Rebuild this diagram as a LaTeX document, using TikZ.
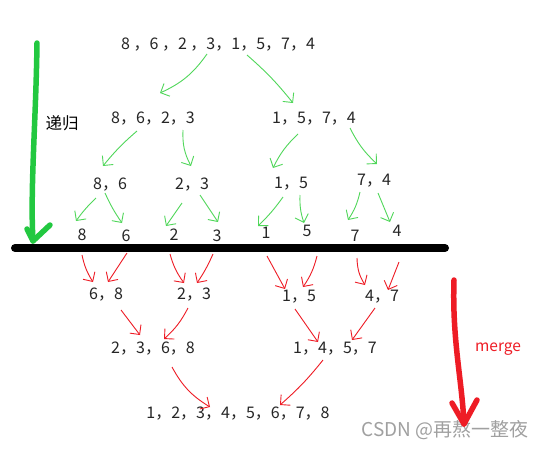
\documentclass[tikz,border=0pt]{standalone}
\usepackage{fontspec}
\setmainfont{Noto Sans CJK SC}
\usetikzlibrary{arrows.meta}
\definecolor{gthick}{RGB}{34,200,64}
\definecolor{gthin}{RGB}{80,215,90}
\definecolor{rred}{RGB}{238,28,37}
\definecolor{wm}{RGB}{160,160,160}
\tikzset{
  num/.style={font=\fontsize{16}{18}\selectfont, text height=11.5pt, text depth=0pt, inner sep=0pt, text=black!85},
  garr/.style={draw=gthin, line width=0.9pt, -{Straight Barb[length=7pt,width=14pt]}},
  rarr/.style={draw=rred, line width=0.9pt, -{Straight Barb[length=7pt,width=14pt]}},
  bigline/.style={line width=5.5pt, line cap=round, line join=round},
}
\begin{document}
\begin{tikzpicture}[x=1pt,y=-1pt]
\useasboundingbox[fill=white] (0,0) rectangle (547,450);
% nodes
\node[num] (top) at (218,44) {8 ，6 ，2 ，3，1，5，7，4};
\node[num] (L1a) at (153,118) {8，6，2，3};
\node[num] (L1b) at (314,118) {1，5，7，4};
\node[num] (L2a) at (110,184) {8，6};
\node[num] (L2b) at (192,184) {2，3};
\node[num] (L2c) at (291,183) {1，5};
\node[num] (L2d) at (374,180) {7，4};
\node[num] (la) at (82,235) {8};
\node[num] (lb) at (126,236) {6};
\node[num] (lc) at (174,235) {2};
\node[num] (ld) at (217,236) {3};
\node[num] (le) at (266,233) {1};
\node[num] (lf) at (307,231) {5};
\node[num] (lg) at (355,236) {7};
\node[num] (lh) at (397,231) {4};
\node[num] (M1a) at (106,294) {6，8};
\node[num] (M1b) at (194,294) {2，3};
\node[num] (M1c) at (299,296) {1，5};
\node[num] (M1d) at (382,296) {4，7};
\node[num] (M2a) at (153,348) {2，3，6，8};
\node[num] (M2b) at (335,348) {1，4，5，7};
\node[num] (F) at (238,413) {1，2，3，4，5，6，7，8};
\node[font=\fontsize{16.5}{18}\selectfont, inner sep=0pt] (dg) at (62,123) {递归};
\node[font=\fontsize{15.5}{17}\selectfont, text=rred, inner sep=0pt] (mg) at (498,349) {merge};
\node[font=\fontsize{19}{21}\selectfont, text=wm, inner sep=0pt] (wmk) at (445,430) {CSDN @再熬一整夜};
% bar
\coordinate (barL) at (15,248);
\coordinate (barR) at (445,248);
\draw[line width=8pt, line cap=round] (barL) -- (barR);
% big green arrow
\coordinate (gs) at (37,43);
\coordinate (ge) at (33,241);
\coordinate (gh1) at (50,225);
\coordinate (gh2) at (27,229);
\draw[gthick, bigline] (gs) .. controls (36,120) and (30,190) .. (ge);
\draw[gthick, bigline] (gh1) -- (ge) -- (gh2);
% big red arrow
\coordinate (rs) at (454,280);
\coordinate (re) at (464,424);
\coordinate (rh1) at (452,403);
\coordinate (rh2) at (477,400);
\draw[rred, bigline] (rs) .. controls (452,340) and (462,380) .. (re);
\draw[rred, bigline] (rh1) -- (re) -- (rh2);
% green divide arrows
\draw[garr] ([shift={(-11,10)}]top.center) to[bend left=15] ([shift={(7,-25)}]L1a.center);
\draw[garr] ([shift={(29,11)}]top.center) to[bend left=5] ([shift={(-21,-15)}]L1b.center);
\draw[garr] ([shift={(-16,13)}]L1a.center) to[bend right=5] ([shift={(-7,-18)}]L2a.center);
\draw[garr] ([shift={(30,12)}]L1a.center) to[bend right=15] ([shift={(-1,-18)}]L2b.center);
\draw[garr] ([shift={(-16,16)}]L1b.center) to[bend right=10] ([shift={(-18,-15)}]L2c.center);
\draw[garr] ([shift={(36,10)}]L1b.center) to[bend right=10] ([shift={(3,-16)}]L2d.center);
\draw[garr] ([shift={(-14,14)}]L2a.center) to[bend right=5] ([shift={(-6,-14)}]la.center);
\draw[garr] ([shift={(-5,9)}]L2a.center) to[bend right=5] ([shift={(-4,-13)}]lb.center);
\draw[garr] ([shift={(-10,19)}]L2b.center) -- ([shift={(-8,-9)}]lc.center);
\draw[garr] ([shift={(8,11)}]L2b.center) -- ([shift={(1,-14)}]ld.center);
\draw[garr] ([shift={(-8,14)}]L2c.center) to[bend left=5] ([shift={(-8,-7)}]le.center);
\draw[garr] ([shift={(9,12)}]L2c.center) to[bend right=10] ([shift={(-3,-8)}]lf.center);
\draw[garr] ([shift={(-14,12)}]L2d.center) to[bend left=10] ([shift={(-7,-16)}]lg.center);
\draw[garr] ([shift={(4,13)}]L2d.center) -- ([shift={(-7,-9)}]lh.center);
% red merge arrows
\draw[rarr] ([shift={(0,20)}]la.center) to[bend right=10] ([shift={(-13,-12)}]M1a.center);
\draw[rarr] ([shift={(1,17)}]lb.center) -- ([shift={(2,-12)}]M1a.center);
\draw[rarr] ([shift={(-4,19)}]lc.center) to[bend right=10] ([shift={(-10,-11)}]M1b.center);
\draw[rarr] ([shift={(-4,18)}]ld.center) to[bend left=5] ([shift={(3,-11)}]M1b.center);
\draw[rarr] ([shift={(1,23)}]le.center) -- ([shift={(-14,-7)}]M1c.center);
\draw[rarr] ([shift={(10,25)}]lf.center) to[bend left=10] ([shift={(4,-9)}]M1c.center);
\draw[rarr] ([shift={(2,22)}]lg.center) to[bend right=15] ([shift={(-17,-11)}]M1d.center);
\draw[rarr] ([shift={(2,31)}]lh.center) -- ([shift={(6,-6)}]M1d.center);
\draw[rarr] ([shift={(15,16)}]M1a.center) -- ([shift={(-13,-13)}]M2a.center);
\draw[rarr] ([shift={(-6,14)}]M1b.center) to[bend left=10] ([shift={(11,-9)}]M2a.center);
\draw[rarr] ([shift={(-4,13)}]M1c.center) -- ([shift={(-17,-6)}]M2b.center);
\draw[rarr] ([shift={(-7,12)}]M1d.center) -- ([shift={(17,-8)}]M2b.center);
\draw[rarr] ([shift={(19,19)}]M2a.center) to[bend right=15] ([shift={(-28,-6)}]F.center);
\draw[rarr] ([shift={(-12,12)}]M2b.center) to[bend left=5] ([shift={(42,-8)}]F.center);
\end{tikzpicture}
\end{document}
